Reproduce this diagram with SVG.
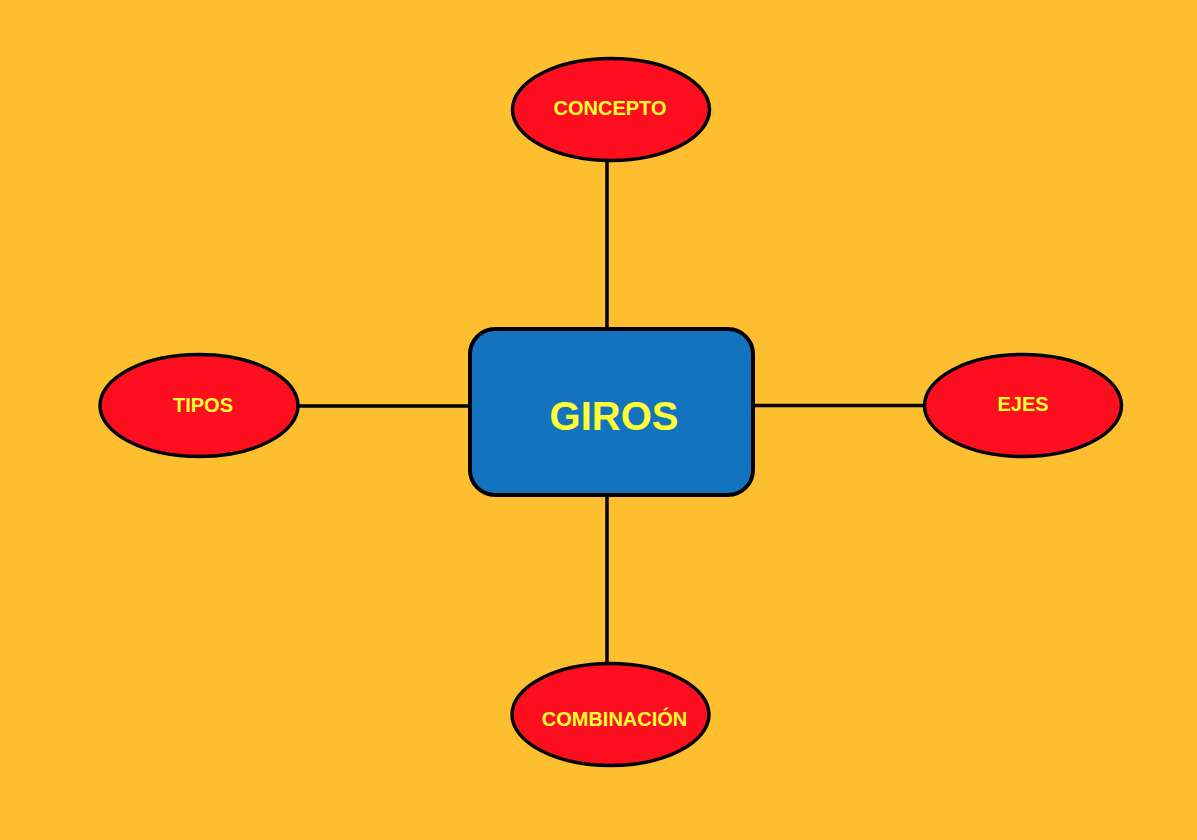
<svg xmlns="http://www.w3.org/2000/svg" width="1197" height="840" viewBox="0 0 1197 840">
<style>
.bg{fill:#FDBF30}
.conn line{stroke:#000;stroke-width:3.5}
.ell{fill:#FE0F1F;stroke:#000;stroke-width:3.5}
.box{fill:#1373BE;stroke:#000;stroke-width:4}
.t{font-family:"Liberation Sans",Arial,sans-serif;font-weight:bold;fill:#FFFF33;text-anchor:middle}
.s{font-size:20px}
.b{font-size:40px}
</style>
<rect class="bg" x="0" y="0" width="1197" height="840"/>
<g id="connectors" class="conn">
<line x1="607" y1="160" x2="607" y2="329"/>
<line x1="607" y1="495" x2="607" y2="664"/>
<line x1="298" y1="406" x2="470" y2="406"/>
<line x1="753" y1="405.5" x2="925" y2="405.5"/>
</g>
<g id="giros">
<rect class="box" x="470" y="329" width="283" height="166" rx="25" ry="25"/>
<text class="t b" x="614" y="430">GIROS</text>
</g>
<g id="concepto">
<ellipse class="ell" cx="611" cy="109.5" rx="98.5" ry="51"/>
<text class="t s" x="610" y="115">CONCEPTO</text>
</g>
<g id="tipos">
<ellipse class="ell" cx="199" cy="405.5" rx="99" ry="51"/>
<text class="t s" x="203" y="412">TIPOS</text>
</g>
<g id="ejes">
<ellipse class="ell" cx="1023" cy="405.5" rx="98.5" ry="51"/>
<text class="t s" x="1023" y="411">EJES</text>
</g>
<g id="combinacion">
<ellipse class="ell" cx="610.5" cy="714.5" rx="98.5" ry="51"/>
<text class="t s" x="614.5" y="726">COMBINACIÓN</text>
</g>
</svg>
